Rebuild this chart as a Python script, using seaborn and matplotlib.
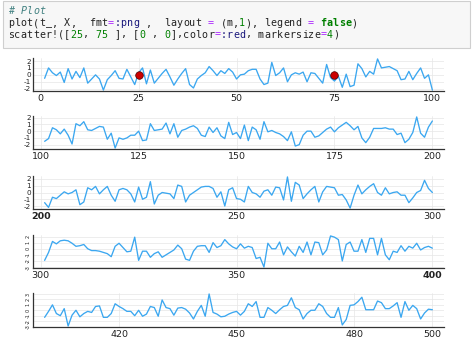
import numpy as np
import matplotlib
matplotlib.use("Agg")
import matplotlib.pyplot as plt
from matplotlib.patches import Rectangle
import seaborn as sns

# Series values (one block of 100 per subplot)
x_part1 = [-0.5, 1.0, 0.3, -0.1, 0.4, -1.1, 0.9, -0.6, 0.5, -0.4,
           1.0, -1.2, -0.6, 0.0, -0.6, -2.2, -0.7, -0.1, 0.6, -0.5,
           -0.6, 0.8, -0.3, -1.4, 0.3, 1.0, -1.3, 0.7, -1.2, -0.5,
           0.2, 0.8, -0.3, -1.5, -0.6, 0.2, 0.9, -1.4, -1.9, -0.6,
           -0.1, 0.3, 1.2, 0.6, -0.1, 0.6, 0.2, 0.9, 0.4, -0.6,
           0.0, 0.1, 0.6, 0.8, 0.8, -0.6, -1.4, -1.2, 1.8, -0.1,
           0.3, 1.0, -1.0, 0.0, 0.3, 0.1, 0.4, -1.0, 0.3, 0.2,
           -0.5, -1.2, 1.5, -0.4, -0.9, -0.2, -1.8, 0.1, -1.7, -1.5,
           1.6, 0.9, -0.3, 0.5, 0.1, 2.3, 1.0, 1.1, 1.2, 0.9,
           0.6, -0.7, -0.6, 0.5, -0.7, 0.2, 1.0, -0.5, 0.0, -2.2]
x_part2 = [-1.5, -1.1, 0.5, 0.2, -0.4, 0.3, -0.6, -1.9, 1.1, 0.8,
           1.4, 0.2, 0.1, 0.4, 0.7, 0.6, -1.2, -0.3, -2.5, -1.0,
           -1.2, -1.0, -0.6, -0.6, 0.0, -1.4, -1.3, 1.1, 0.1, 0.2,
           0.3, 1.2, -0.4, 1.1, -0.9, 0.1, 0.3, 0.6, 0.8, 0.4,
           -0.6, -0.8, 0.6, -0.2, 0.5, -0.7, -1.1, 1.3, -0.5, -0.2,
           -1.1, 0.9, -1.4, 0.6, 0.2, -1.2, 1.4, -0.1, 0.1, -0.2,
           -0.4, -0.8, -1.4, -0.1, -2.2, -2.0, -0.6, 0.0, 0.0, -0.9,
           -0.7, -0.2, 0.3, 0.6, -0.1, 0.5, 0.9, 1.3, 0.8, 0.2,
           0.7, -1.0, -1.7, -0.9, 0.4, 0.4, 0.4, 0.5, 0.3, 0.3,
           -0.5, -0.3, -1.7, -1.2, -0.2, 2.1, -0.3, -0.9, 0.6, 1.5]
x_part3 = [-1.5, -2.2, -0.7, -0.9, -0.4, 0.1, -0.2, 0.0, 0.4, -1.8,
           -1.4, 0.7, 0.4, 0.9, -0.2, 0.4, 0.9, -0.4, -1.3, 0.4,
           0.6, 0.4, -0.2, -1.4, 0.8, -1.0, -0.7, 1.6, -1.7, -0.4,
           0.0, -0.1, -0.2, -0.9, 1.1, 0.9, -1.4, -0.4, 0.0, 0.4,
           0.8, 0.9, 0.9, 0.6, -0.7, 0.1, -2.0, 0.4, 0.7, -0.9,
           -1.0, -1.4, 0.9, 0.0, -0.2, -0.7, 0.2, 0.4, -0.4, 0.8,
           0.7, -1.1, 2.3, -1.3, 1.5, 1.1, -0.9, -0.2, 0.4, 0.9,
           -1.4, 0.1, 0.9, 0.8, 0.7, -0.4, -0.3, -1.1, -2.3, -0.4,
           1.1, -0.2, 0.4, 0.9, 1.3, 0.0, -0.4, 0.7, -0.2, 0.0,
           0.1, -0.4, -0.4, -1.5, -0.8, 0.0, 0.3, 1.8, 0.6, 0.0]
x_part4 = [-1.9, -0.6, 1.2, 0.8, 1.3, 1.4, 1.3, 0.9, 0.4, 0.5,
           0.7, 0.0, -0.3, -0.3, -0.4, -0.6, -0.8, -1.3, 0.4, 0.9,
           0.2, -0.5, -0.4, 1.9, -1.9, -0.4, -0.4, -1.4, -0.8, -0.5,
           -1.4, -1.0, -0.6, -0.2, 0.6, 0.0, -1.7, -1.9, -0.4, 0.4,
           0.5, 0.5, -0.6, 1.0, 0.2, 0.5, 1.5, 0.8, 0.3, 0.0,
           0.8, 0.1, 0.4, 0.2, -1.6, -1.4, -3.0, 0.9, 0.0, 0.0,
           1.1, -1.0, 0.3, -0.5, -1.2, 0.4, -0.6, 1.1, -1.0, 1.1,
           1.0, -1.0, -0.2, 2.1, 1.9, 1.5, -2.0, 0.7, 1.1, -0.4,
           -0.4, 1.5, -0.6, 1.7, 1.7, -1.0, 1.7, -1.0, -1.8, -0.4,
           -0.6, 0.5, -0.4, 0.4, 0.1, 0.9, -0.2, 0.2, 0.4, 0.1]
x_part5 = [-1.3, -0.2, 1.0, -0.6, -1.0, 0.3, -2.9, -0.9, 0.0, -1.2,
           -0.6, -0.2, -0.4, 0.7, 0.8, -1.3, -1.3, -0.6, 1.2, 0.7,
           0.3, -0.2, -0.2, -1.0, 0.0, -1.1, -0.7, 0.7, 0.5, -1.1,
           1.9, 0.5, 0.3, -0.9, 0.4, 0.5, 0.2, -0.5, -1.6, -0.2,
           0.9, -1.1, 3.0, -0.4, -0.7, -1.2, -1.1, -0.7, -0.4, -0.2,
           -0.9, -0.2, 1.2, 0.7, 1.6, -1.3, -1.3, 0.5, 0.0, -0.6,
           0.1, 0.7, 0.9, 2.3, 0.5, 0.1, -1.6, -0.6, 0.0, 0.0,
           1.2, 0.7, -0.6, -1.3, -1.3, 0.5, -2.7, -1.7, 0.9, 1.0,
           1.6, 2.4, 0.1, 0.1, 0.1, 1.7, 1.4, 0.3, 0.3, 0.8,
           1.4, -1.3, 1.6, 0.0, 0.9, 0.3, -1.6, -0.5, 0.2, 0.1]
series = [x_part1, x_part2, x_part3, x_part4, x_part5]
starts = [1, 101, 201, 301, 401]

# tick labels for each subplot
x_ticks = [[0, 25, 50, 75, 100], [100, 125, 150, 175, 200], [200, 250, 300],
           [300, 350, 400], [420, 450, 480, 500]]
bold_ticks = [[], [], [200], [400], []]
y_ticks = [[-2, -1, 0, 1, 2], [-2, -1, 0, 1, 2], [-2, -1, 0, 1, 2],
           [-3, -2, -1, 0, 1, 2], [-3, -2, -1, 0, 1, 2, 3]]

# red markers from scatter!
dot_t = [25, 75]
dot_y = [0, 0]

# code cell text: (text, kind) tokens per line
code_lines = [
    [("# Plot", "com")],
    [("plot(t_, X,  fmt", "txt"), ("=", "op"), (":png", "sym"), (" ,  layout ", "txt"),
     ("=", "op"), (" (m,", "txt"), ("1", "num"), ("), legend ", "txt"), ("=", "op"),
     (" ", "txt"), ("false", "kw"), (")", "txt")],
    [("scatter!([", "txt"), ("25", "num"), (", ", "txt"), ("75", "num"), (" ], [", "txt"),
     ("0", "num"), (" , ", "txt"), ("0", "num"), ("],color", "txt"), ("=", "op"),
     (":red", "sym"), (", markersize", "txt"), ("=", "op"), ("4", "num"), (")", "txt")],
]
token_colors = {"com": "#408080", "txt": "#222222", "op": "#AA22FF",
                "sym": "#19177C", "num": "#008000", "kw": "#008000"}

W, H = 474, 354
sns.set_style("white")
plt.rcParams['font.family'] = ['DejaVu Sans']

fig = plt.figure(figsize=(W / 100, H / 100), dpi=100)

# code cell box
fig.patches.append(Rectangle((3 / W, 1 - 48 / H), 467 / W, 47 / H, transform=fig.transFigure,
                             facecolor="#f7f7f7", edgecolor="#cfcfcf", linewidth=0.8))
char_w = 6.25
line_y = [11, 23.5, 34.5]
for tokens, ly in zip(code_lines, line_y):
    col = 0
    for text, kind in tokens:
        for i, ch in enumerate(text):
            fig.text((8 + (col + i) * char_w) / W, 1 - ly / H, ch,
                     family="DejaVu Sans Mono", fontsize=7.2, va="center", ha="left",
                     color=token_colors[kind],
                     style="italic" if kind == "com" else "normal",
                     weight="bold" if kind == "kw" else "normal")
        col += len(text)

# subplot boxes in pixels (top, bottom)
rows = [(58, 91), (116, 149), (176, 209), (235, 268), (293, 327)]
left, right = 33, 444

for k, (top, bottom) in enumerate(rows):
    ax = fig.add_axes([left / W, 1 - bottom / H, (right - left) / W, (bottom - top) / H])
    vals = np.array(series[k])
    t = np.arange(starts[k], starts[k] + len(vals))
    sns.lineplot(x=t, y=vals, ax=ax, color="#3BA7F0", linewidth=0.95)
    if k == 0:
        sns.scatterplot(x=dot_t, y=dot_y, ax=ax, color="#CC0000", edgecolor="#4a0000",
                        linewidth=0.5, s=30, zorder=3)

    span = t[-1] - t[0]
    ax.set_xlim(t[0] - 0.03 * span, t[-1] + 0.03 * span)
    r = vals.max() - vals.min()
    ax.set_ylim(vals.min() - 0.03 * r, vals.max() + 0.03 * r)

    ax.set_xticks(x_ticks[k], labels=[str(v) for v in x_ticks[k]])
    ax.set_yticks(y_ticks[k], labels=[str(v) for v in y_ticks[k]])
    for lbl in ax.get_xticklabels():
        if lbl.get_text() in [str(b) for b in bold_ticks[k]]:
            lbl.set_fontweight("bold")
    ax.tick_params(axis="x", labelsize=6.8, direction="in", length=2.5, width=0.6,
                   pad=2, colors="#222222")
    ax.tick_params(axis="y", labelsize=5.2, direction="in", length=3, width=0.6,
                   pad=1.5, colors="#222222")
    if k >= 3:
        for lbl in ax.get_yticklabels():
            lbl.set_rotation(90)
            lbl.set_va("center")
            lbl.set_fontsize(3.6)

    ax.grid(True, color="#e6e6e6", linewidth=0.5)
    ax.set_axisbelow(True)
    for side in ["top", "right"]:
        ax.spines[side].set_visible(False)
    for side in ["left", "bottom"]:
        ax.spines[side].set_color("#333333")
        ax.spines[side].set_linewidth(0.9)
    ax.set_xlabel("")
    ax.set_ylabel("")

fig.savefig("out.png", dpi=100)
